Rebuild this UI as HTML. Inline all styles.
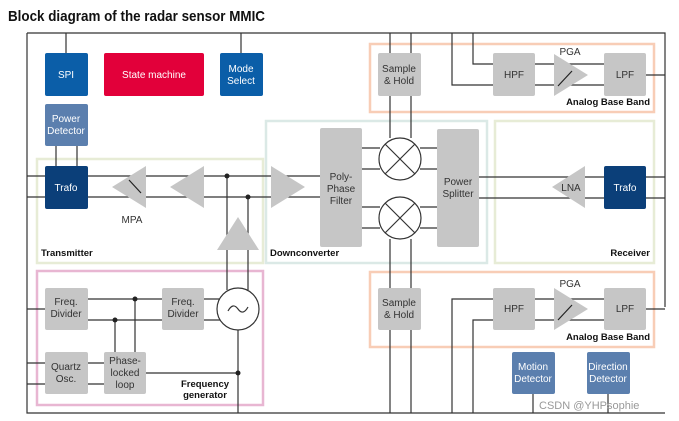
<!DOCTYPE html>
<html><head><meta charset="utf-8"><style>
html,body{margin:0;padding:0;background:#fff;}
svg{display:block;}
text{font-family:"Liberation Sans",sans-serif;}
</style></head><body>
<svg width="679" height="421" viewBox="0 0 679 421" xmlns="http://www.w3.org/2000/svg">
<text x="8" y="21" font-size="15" font-weight="bold" fill="#111" textLength="257" lengthAdjust="spacingAndGlyphs">Block diagram of the radar sensor MMIC</text>
<!-- group boxes -->
<g fill="none" stroke-width="2.5">
<rect x="37" y="159" width="226" height="104" stroke="#e7ecd6"/>
<rect x="266" y="121" width="221" height="142" stroke="#dbe9e6"/>
<rect x="495" y="121" width="159" height="142" stroke="#e7ecd6"/>
<rect x="370" y="44" width="284" height="68" stroke="#f8cdb6"/>
<rect x="370" y="272" width="284" height="75" stroke="#f8cdb6"/>
<rect x="37" y="271" width="226" height="134" stroke="#e8b6d2"/>
</g>
<!-- lines -->
<g stroke="#333" stroke-width="1.2" fill="none">
<path d="M27 33 H665 V307 M27 33 V413 H665"/>
<path d="M66 33 V53 M241 33 V53 M56 146 V166 M77 146 V166"/>
<path d="M27 176 H320 M27 197 H320"/>
<path d="M227 176 V290 M248 197 V290"/>
<path d="M362 148 H380 M362 169 H380 M362 207 H380 M362 228 H380"/>
<path d="M420 148 H437 M420 169 H437 M420 207 H437 M420 228 H437"/>
<path d="M390 33 V138 M411 33 V138 M390 239 V413 M411 239 V413"/>
<path d="M479 177 H665 M479 198 H665"/>
<path d="M452 33 V85 H493 M473 33 V64 H493 M535 64 H604 M535 85 H604 M646 75 H665"/>
<path d="M452 413 V299 H493 M473 413 V320 H493 M535 299 H604 M535 320 H604 M646 309 H665"/>
<path d="M533 394 V413 M608 394 V413"/>
<path d="M27 309 H45 M27 363 H45 M27 384 H45 M88 363 H104 M88 384 H104"/>
<path d="M88 299 H162 M88 320 H162 M204 299 H220 M204 320 H220"/>
<path d="M135 299 V352 M115 320 V352 M146 373 H238 M238 330 V413"/>
<circle cx="400" cy="159" r="21" fill="#fff"/>
<path d="M385 144 L415 174 M415 144 L385 174"/>
<circle cx="400" cy="218" r="21" fill="#fff"/>
<path d="M385 203 L415 233 M415 203 L385 233"/>
<circle cx="238" cy="309" r="21" fill="#fff"/>
<path d="M228 311 Q233 302 238 309 Q243 316 248 307"/>
</g>
<g fill="#222">
<circle cx="227" cy="176" r="2.5"/><circle cx="248" cy="197" r="2.5"/>
<circle cx="135" cy="299" r="2.5"/><circle cx="115" cy="320" r="2.5"/><circle cx="238" cy="373" r="2.5"/>
</g>
<!-- triangles -->
<g fill="#c6c6c6">
<polygon points="112,187 146,166 146,208"/>
<polygon points="170,187 204,166 204,208"/>
<polygon points="305,187 271,166 271,208"/>
<polygon points="238,217 217,250 259,250"/>
<polygon points="552,187 585,166 585,208"/>
<polygon points="588,75 554,54 554,96"/>
<polygon points="588,309 554,288 554,330"/>
</g>
<g stroke="#222" stroke-width="1.2">
<path d="M129 180 L141 193"/><path d="M558 86 L572 71"/><path d="M558 320 L572 305"/>
</g>
<!-- boxes -->
<g>
<rect x="45" y="53" width="43" height="43" rx="2" fill="#0b5ea8"/>
<rect x="104" y="53" width="100" height="43" rx="2" fill="#e2003a"/>
<rect x="220" y="53" width="43" height="43" rx="2" fill="#0b5ea8"/>
<rect x="45" y="104" width="43" height="42" rx="2" fill="#5b7fae"/>
<rect x="45" y="166" width="43" height="43" rx="2" fill="#0b3f79"/>
<rect x="604" y="166" width="42" height="43" rx="2" fill="#0b3f79"/>
<rect x="512" y="352" width="43" height="42" rx="2" fill="#5b7fae"/>
<rect x="587" y="352" width="43" height="42" rx="2" fill="#5b7fae"/>
<g fill="#c6c6c6">
<rect x="320" y="128" width="42" height="119" rx="2"/>
<rect x="437" y="129" width="42" height="118" rx="2"/>
<rect x="378" y="53" width="43" height="43" rx="2"/>
<rect x="493" y="53" width="42" height="43" rx="2"/>
<rect x="604" y="53" width="42" height="43" rx="2"/>
<rect x="378" y="288" width="43" height="42" rx="2"/>
<rect x="493" y="288" width="42" height="42" rx="2"/>
<rect x="604" y="288" width="42" height="42" rx="2"/>
<rect x="45" y="288" width="43" height="42" rx="2"/>
<rect x="162" y="288" width="42" height="42" rx="2"/>
<rect x="45" y="352" width="43" height="42" rx="2"/>
<rect x="104" y="352" width="42" height="42" rx="2"/>
</g>
</g>
<!-- labels -->
<g font-size="10" text-anchor="middle" fill="#fff">
<text x="66" y="78">SPI</text>
<text x="154" y="78">State machine</text>
<text x="241" y="72">Mode</text><text x="241" y="84">Select</text>
<text x="66" y="122">Power</text><text x="66" y="134">Detector</text>
<text x="66" y="191">Trafo</text>
<text x="625" y="191">Trafo</text>
<text x="533" y="370">Motion</text><text x="533" y="382">Detector</text>
<text x="608" y="370">Direction</text><text x="608" y="382">Detector</text>
</g>
<g font-size="10" text-anchor="middle" fill="#333">
<text x="341" y="180">Poly-</text><text x="341" y="192">Phase</text><text x="341" y="204">Filter</text>
<text x="458" y="185">Power</text><text x="458" y="197">Splitter</text>
<text x="399" y="72">Sample</text><text x="399" y="84">&amp; Hold</text>
<text x="399" y="306">Sample</text><text x="399" y="318">&amp; Hold</text>
<text x="514" y="78">HPF</text><text x="625" y="78">LPF</text>
<text x="514" y="312">HPF</text><text x="625" y="312">LPF</text>
<text x="570" y="55">PGA</text><text x="570" y="287">PGA</text>
<text x="571" y="191">LNA</text>
<text x="132" y="223">MPA</text>
<text x="66" y="305">Freq.</text><text x="66" y="317">Divider</text>
<text x="183" y="305">Freq.</text><text x="183" y="317">Divider</text>
<text x="66" y="370">Quartz</text><text x="66" y="382">Osc.</text>
<text x="125" y="364">Phase-</text><text x="125" y="376">locked</text><text x="125" y="388">loop</text>
</g>
<g font-size="9.5" font-weight="bold" fill="#111">
<text x="41" y="256">Transmitter</text>
<text x="270" y="256">Downconverter</text>
<text x="650" y="256" text-anchor="end">Receiver</text>
<text x="650" y="105" text-anchor="end">Analog Base Band</text>
<text x="650" y="340" text-anchor="end">Analog Base Band</text>
<text x="205" y="387" text-anchor="middle">Frequency</text>
<text x="205" y="398" text-anchor="middle">generator</text>
</g>
<text x="539" y="409" font-size="11" fill="#999">CSDN @YHPsophie</text>
</svg>
</body></html>
